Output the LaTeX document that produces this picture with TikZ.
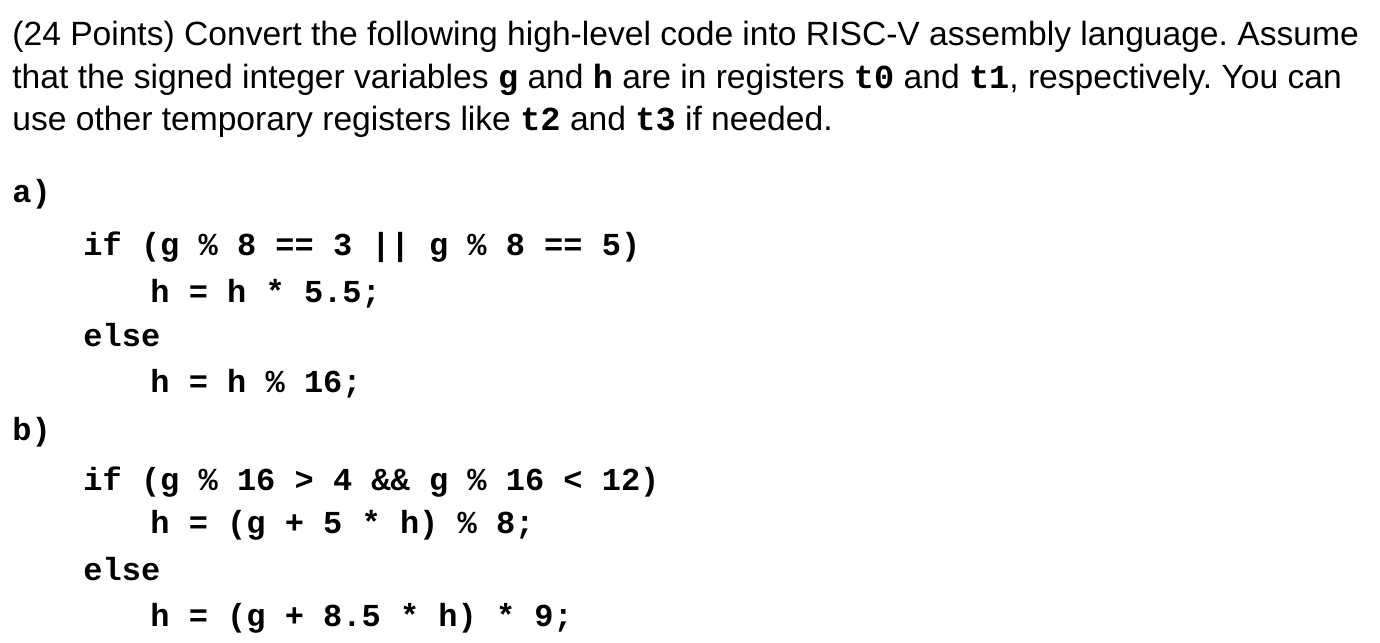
\documentclass[tikz,border=0pt]{standalone}
\usepackage{fontspec}
\setmainfont{Liberation Sans}
\newfontfamily\cmono{Liberation Mono}[BoldFont={Liberation Mono Bold}]
\newcommand{\cc}[1]{{\cmono\bfseries #1}}
\frenchspacing
\tikzset{txt/.style={anchor=base west,inner sep=0pt,font=\fontsize{16.8pt}{19pt}\selectfont},
code/.style={anchor=base west,inner sep=0pt,font=\fontsize{16pt}{18pt}\selectfont\cmono\bfseries}}
\begin{document}
\begin{tikzpicture}[x=0.5pt,y=-0.5pt]
\useasboundingbox (0,0) rectangle (1380,642);
\node[txt] (l1) at (12,46) {(24 Points) Convert the following high-level code into RISC-V assembly language. Assume};
\node[txt] (l2) at (12,89) {that the signed integer variables \cc{g} and \cc{h} are in registers \cc{t0} and \cc{t1}, respectively. You can};
\node[txt] (l3) at (12,131) {use other temporary registers like \cc{t2} and \cc{t3} if needed.};
\node[code] (a) at (12,202) {a)};
\node[code] (a1) at (83,255) {if (g \% 8 == 3 || g \% 8 == 5)};
\node[code] (a2) at (150,302) {h = h * 5.5;};
\node[code] (a3) at (83,346) {else};
\node[code] (a4) at (150,392) {h = h \% 16;};
\node[code] (b) at (12,440) {b)};
\node[code] (b1) at (83,490) {if (g \% 16 > 4 \&\& g \% 16 < 12)};
\node[code] (b2) at (150,533) {h = (g + 5 * h) \% 8;};
\node[code] (b3) at (83,580) {else};
\node[code] (b4) at (150,626) {h = (g + 8.5 * h) * 9;};
\end{tikzpicture}
\end{document}
